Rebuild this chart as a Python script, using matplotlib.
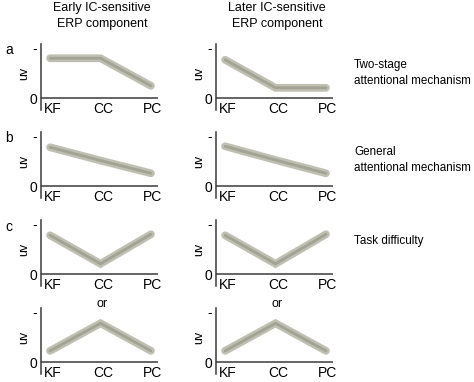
import matplotlib.pyplot as plt

plt.rcParams['font.family'] = ['Liberation Sans', 'DejaVu Sans']

conds = ['KF', 'CC', 'PC']
x = [0, 1, 2]

# rows: a, b, c (top), c (bottom); columns: early, later
early = [[0.78, 0.78, 0.24],
         [0.76, 0.50, 0.25],
         [0.76, 0.20, 0.78],
         [0.22, 0.76, 0.22]]
later = [[0.75, 0.20, 0.20],
         [0.78, 0.51, 0.25],
         [0.76, 0.20, 0.78],
         [0.22, 0.76, 0.22]]

col_titles = ['Early IC-sensitive\nERP component', 'Later IC-sensitive\nERP component']
row_letters = ['a', 'b', 'c', '']
row_notes = ['Two-stage\nattentional mechanism', 'General\nattentional mechanism',
             'Task difficulty', '']

W, H = 474, 382
fig = plt.figure(figsize=(W / 100, H / 100), dpi=100)

zero_px = [98, 186, 274, 362]   # pixel row of x-axis
col_left = [41, 216]
ax_w = 117
top_pad, bot_pad = 54, 12
axis_col = '#3a3a3a'
fs = 9


def tube(ax, vals):
    ax.plot(x, vals, color='#c0c0b2', lw=5.6, solid_capstyle='round',
            solid_joinstyle='miter', zorder=3)
    ax.plot(x, vals, color='#8f8f82', lw=2.0, solid_capstyle='round',
            alpha=0.6, zorder=4)


for r in range(4):
    for c in range(2):
        left = col_left[c] / W
        bottom = 1 - (zero_px[r] + bot_pad) / H
        height = (top_pad + bot_pad) / H
        ax = fig.add_axes([left, bottom, ax_w / W, height])
        tube(ax, early[r] if c == 0 else later[r])
        ax.set_xlim(-0.18, 2.14)
        ax.set_ylim(-0.235, 1.06)
        for s in ['top', 'right', 'bottom']:
            ax.spines[s].set_visible(False)
        ax.spines['left'].set_color(axis_col)
        ax.spines['left'].set_linewidth(1.1)
        ax.axhline(0, color=axis_col, lw=1.1, zorder=2)
        ax.set_yticks([0, 1])
        ax.set_yticklabels(['0', '-'], fontsize=fs + 1)
        ax.set_xticks([0.06, 1.05, 2.03])
        ax.set_xticklabels(conds, fontsize=fs + 1)
        ax.tick_params(axis='y', length=0, pad=3)
        ax.tick_params(axis='x', length=0, pad=-6)
        ax.set_ylabel('uv', fontsize=fs, labelpad=1)
        ax.yaxis.set_label_coords(-0.09, 0.55)

for c in range(2):
    cx = (col_left[c] + 61) / W
    fig.text(cx, 1 - 16 / H, col_titles[c], ha='center', va='center',
             fontsize=fs, linespacing=1.35)
    fig.text(cx, 1 - 304 / H, 'or', ha='center', va='center', fontsize=fs)

letter_y = [50, 138, 227]
for r in range(3):
    fig.text(5 / W, 1 - letter_y[r] / H, row_letters[r], ha='left',
             va='center', fontsize=fs + 1)

note_y = [73, 160, 241]
for r in range(3):
    fig.text(354 / W, 1 - note_y[r] / H, row_notes[r], ha='left',
             va='center', fontsize=8.4, linespacing=1.4)

fig.savefig('out.png', dpi=100)
